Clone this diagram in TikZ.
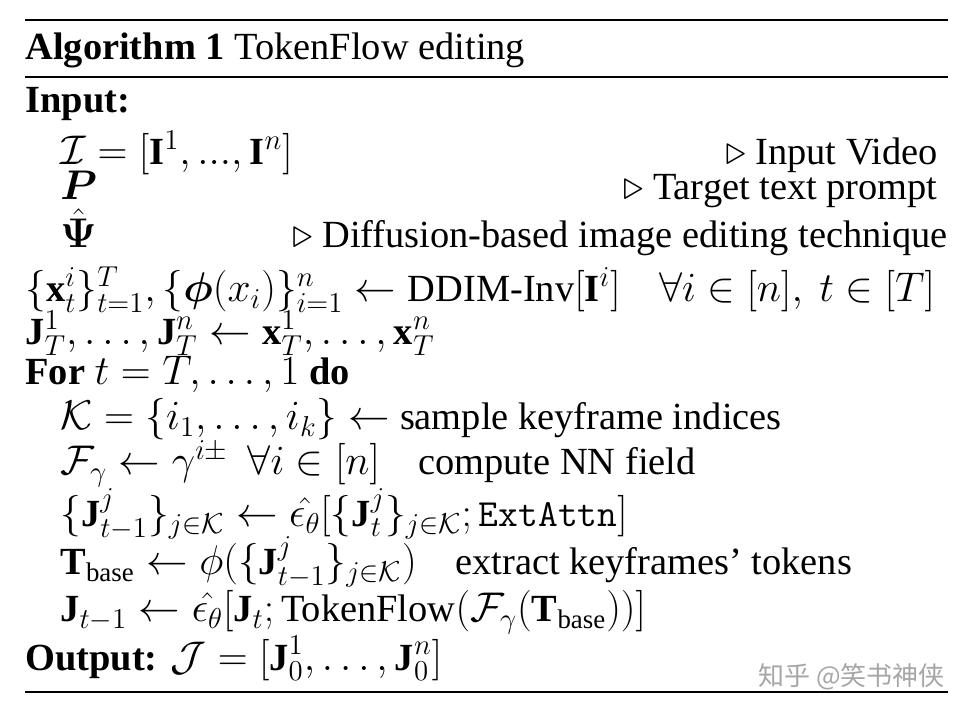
\documentclass[tikz,border=0pt]{standalone}
\usepackage{amsmath,amssymb,bm}
\usepackage{fontspec}
\setmainfont{Liberation Serif}
\newfontfamily\cjk{Noto Sans CJK SC}
\begin{document}
\begin{tikzpicture}[x=0.5pt,y=-0.5pt,
  txt/.style={anchor=base west,inner sep=0pt,font=\fontsize{19.2}{22}\selectfont},
  rtxt/.style={anchor=base east,inner sep=0pt,font=\fontsize{19.2}{22}\selectfont}]
\useasboundingbox (0,0) rectangle (970,716);
\fill[white] (0,0) rectangle (970,716);
\draw[line width=1.2pt] (25,20) coordinate (t1) -- (948,20) coordinate (t2);
\draw[line width=0.6pt] (25,77) coordinate (m1) -- (948,77) coordinate (m2);
\draw[line width=0.6pt] (25,692) coordinate (b1) -- (948,692) coordinate (b2);
\node[txt] (title) at (25,60) {\textbf{Algorithm 1} TokenFlow editing};
\node[txt] (in) at (25,113) {\textbf{Input:}};
\node[txt] (l1) at (60,165) {$\mathcal{I}=[\mathbf{I}^1,...,\mathbf{I}^n]$};
\node[rtxt] (c1) at (938,165) {$\triangleright$ Input Video};
\node[txt] (l2) at (60,200) {$\bm{P}$};
\node[rtxt] (c2) at (938,200) {$\triangleright$ Target text prompt};
\node[txt] (l3) at (60,248) {$\hat{\bm{\Psi}}$};
\node[rtxt] (c3) at (948,248) {$\triangleright$ Diffusion-based image editing technique};
\node[txt] (l4) at (25,302) {$\{\mathbf{x}_t^i\}_{t=1}^T,\{\bm{\phi}(x_i)\}_{i=1}^n\leftarrow\text{DDIM-Inv}[\mathbf{I}^i]\quad\forall i\in[n],\ t\in[T]$};
\node[txt] (l5) at (25,345) {$\mathbf{J}_T^1,\dots,\mathbf{J}_T^n\leftarrow\mathbf{x}_T^1,\dots,\mathbf{x}_T^n$};
\node[txt] (l6) at (25,385) {\textbf{For} $t=T,\dots,1$ \textbf{do}};
\node[txt] (l7) at (60,430) {$\mathcal{K}=\{i_1,\dots,i_k\}\leftarrow$ sample keyframe indices};
\node[txt] (l8) at (60,475) {$\mathcal{F}_\gamma\leftarrow\gamma^{i\pm}\ \ \forall i\in[n]$\quad compute NN field};
\node[txt] (l9) at (60,527) {$\{\mathbf{J}_{t-1}^j\}_{j\in\mathcal{K}}\leftarrow\hat{\epsilon_\theta}[\{\mathbf{J}_t^j\}_{j\in\mathcal{K}};\texttt{ExtAttn}]$};
\node[txt] (l10) at (60,575) {$\mathbf{T}_{\text{base}}\leftarrow\phi(\{\mathbf{J}_{t-1}^j\}_{j\in\mathcal{K}})$\quad extract keyframes' tokens};
\node[txt] (l11) at (60,622) {$\mathbf{J}_{t-1}\leftarrow\hat{\epsilon_\theta}[\mathbf{J}_t;\text{TokenFlow}(\mathcal{F}_\gamma(\mathbf{T}_{\text{base}}))]$};
\node[txt] (out) at (25,670) {\textbf{Output:} $\mathcal{J}=[\mathbf{J}_0^1,\dots,\mathbf{J}_0^n]$};
\node[rtxt,font=\cjk\fontsize{13}{15}\selectfont,text=black!35] (wm) at (945,685) {知乎 @笑书神侠};
\end{tikzpicture}
\end{document}
